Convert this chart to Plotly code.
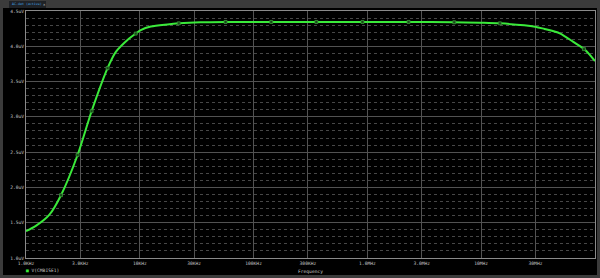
import plotly.graph_objects as go

# ---- data ----
freq_hz = [1000, 1220, 1600, 2030, 2840, 3770, 5210, 6160, 8060, 9200, 10200,
           12500, 17500, 22000, 34000, 56700, 143000, 356000, 905000, 2300000,
           5800000, 9800000, 14600000, 29800000, 36000000, 49000000, 64000000,
           82000000, 100000000]
v_uV = [1.38, 1.455, 1.61, 1.89, 2.46, 3.08, 3.69, 3.92, 4.11, 4.18, 4.23,
        4.28, 4.31, 4.325, 4.34, 4.345, 4.345, 4.345, 4.345, 4.345,
        4.34, 4.334, 4.325, 4.278, 4.245, 4.184, 4.065, 3.948, 3.79]

marker_f = [2030, 2840, 3770, 5210, 9200, 22000, 56700, 143000, 356000,
            905000, 2300000, 5800000, 14600000, 80000000]
marker_v = [1.89, 2.46, 3.08, 3.69, 4.18, 4.325, 4.345, 4.345, 4.345,
            4.345, 4.345, 4.34, 4.325, 3.96]

x_tickvals = [1e3, 3e3, 1e4, 3e4, 1e5, 3e5, 1e6, 3e6, 1e7, 3e7, 1e8]
x_ticktext = ["1.0KHz", "3.0KHz", "10KHz", "30KHz", "100KHz", "300KHz",
              "1.0MHz", "3.0MHz", "10MHz", "30MHz",
              "100MHz\u00a0\u00a0\u00a0\u00a0\u00a0"]
y_tickvals = [1.0, 1.5, 2.0, 2.5, 3.0, 3.5, 4.0, 4.5]
y_ticktext = ["1.0uV", "1.5uV", "2.0uV", "2.5uV", "3.0uV", "3.5uV", "4.0uV", "4.5uV"]
series_name = "V(CMBISE1)"

W, H = 600, 278
L, R, T, B = 26, 5, 11, 20
PW, PH = W - L - R, H - T - B

def px(x):
    return (x - L) / PW

def py(y):
    return (H - B - y) / PH

FONT = "DejaVu Sans Mono"
GREEN = "#3aea3a"

fig = go.Figure()
fig.add_trace(go.Scatter(
    x=freq_hz, y=v_uV, mode="lines", name=series_name,
    line=dict(color=GREEN, width=2, shape="spline", smoothing=0.8),
    showlegend=False, hoverinfo="skip"))
fig.add_trace(go.Scatter(
    x=marker_f, y=marker_v, mode="markers", name=series_name,
    marker=dict(symbol="square", size=3, color="#184a18",
                line=dict(color="#3a9a3a", width=0.8)),
    showlegend=False, hoverinfo="skip"))

grid_c = "#525252"
fig.update_xaxes(
    type="log", range=[3, 8], tickvals=x_tickvals, ticktext=x_ticktext,
    showgrid=True, gridcolor=grid_c, gridwidth=1, zeroline=False,
    showline=True, linecolor="#8a8a8a", linewidth=1, mirror=True,
    ticks="", tickfont=dict(family=FONT, size=4.6, color="#c8c8c8"),
    tickangle=0,
    title=dict(text="Frequency", font=dict(family=FONT, size=4.6, color="#c8c8c8"),
               standoff=5))
fig.update_yaxes(
    range=[1.0, 4.5], tickvals=y_tickvals, ticktext=y_ticktext,
    showgrid=True, gridcolor=grid_c, gridwidth=1, zeroline=False,
    showline=True, linecolor="#8a8a8a", linewidth=1, mirror=True,
    ticks="", tickfont=dict(family=FONT, size=4.6, color="#c8c8c8"),
    minor=dict(dtick=0.1, showgrid=True, gridcolor="#474747", griddash="dot",
               gridwidth=1, ticks=""))

frame = "#3b3b3b"
shapes = [
    dict(type="rect", xref="paper", yref="paper", x0=px(0), x1=px(W), y0=py(8), y1=py(0),
         fillcolor=frame, line_width=0),
    dict(type="rect", xref="paper", yref="paper", x0=px(0), x1=px(3), y0=py(H), y1=py(0),
         fillcolor=frame, line_width=0),
    dict(type="rect", xref="paper", yref="paper", x0=px(597), x1=px(W), y0=py(H), y1=py(0),
         fillcolor=frame, line_width=0),
    dict(type="rect", xref="paper", yref="paper", x0=px(0), x1=px(W), y0=py(H), y1=py(275),
         fillcolor=frame, line_width=0),
    dict(type="rect", xref="paper", yref="paper", x0=px(9), x1=px(46), y0=py(8), y1=py(1),
         fillcolor="#1f2226", line_width=0),
]

annotations = [
    dict(xref="paper", yref="paper", x=px(10.5), y=py(4.5), xanchor="left", yanchor="middle",
         text="AC.dat (active)", showarrow=False, borderpad=0,
         font=dict(family=FONT, size=3.3, color="#3fa0e0")),
    dict(xref="paper", yref="paper", x=px(41.5), y=py(4.5), xanchor="left", yanchor="middle",
         text="×", showarrow=False, borderpad=0,
         font=dict(family=FONT, size=4, color="#bbbbbb")),
    dict(xref="paper", yref="paper", x=px(24), y=py(270), xanchor="left", yanchor="middle",
         text=f"<span style='color:{GREEN}'>■</span> {series_name}", showarrow=False,
         font=dict(family=FONT, size=4.6, color="#c8c8c8")),
]

fig.update_layout(
    width=W, height=H, margin=dict(l=L, r=R, t=T, b=B),
    paper_bgcolor="#000000", plot_bgcolor="#000000",
    shapes=shapes, annotations=annotations, showlegend=False)

fig.write_html("out.html")
